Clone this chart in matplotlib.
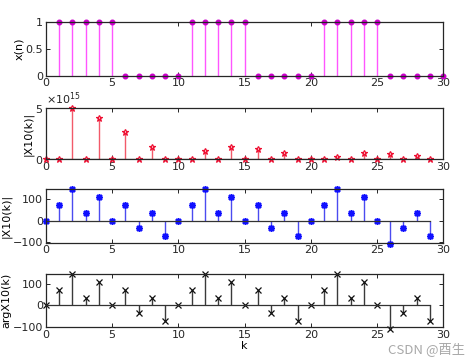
import matplotlib
matplotlib.use("Agg")
import matplotlib.pyplot as plt
from matplotlib.ticker import ScalarFormatter
import numpy as np

plt.rcParams['font.family'] = ['DejaVu Sans']

n = list(range(1, 31))
xn = [1, 1, 1, 1, 1, 0, 0, 0, 0, 0,
      1, 1, 1, 1, 1, 0, 0, 0, 0, 0,
      1, 1, 1, 1, 1, 0, 0, 0, 0, 0]

k = list(range(0, 30))
mag = [0, 0, 5.0e15, 0, 4.03e15, 0, 2.66e15, 0, 1.2e15, 0,
       0, 0, 0.84e15, 0, 1.23e15, 0, 1.04e15, 0, 0.58e15, 0,
       0, 0, 0.26e15, 0, 0.65e15, 0, 0.49e15, 0, 0.36e15, 0]
phase = [0, 72, 144, 36, 108, 0, 72, -36, 36, -72,
         0, 72, 144, 36, 108, 0, 72, -36, 36, -72,
         0, 72, 144, 36, 108, 0, -108, -36, 36, -72]

xticks = [0, 5, 10, 15, 20, 25, 30]

fig = plt.figure(figsize=(4.74, 3.63), dpi=100)
fs = 8
axcol = '#262626'

rects = [
    [0.097, 0.7915, 0.838, 0.148],
    [0.097, 0.561, 0.838, 0.142],
    [0.097, 0.3314, 0.838, 0.148],
    [0.097, 0.0983, 0.838, 0.147],
]
axes = [fig.add_axes(r) for r in rects]

def style(ax):
    for s in ax.spines.values():
        s.set_color(axcol)
        s.set_linewidth(0.9)
    ax.tick_params(direction='in', top=True, right=True, labelsize=fs,
                   colors=axcol, length=3, width=0.7, pad=2)
    ax.set_xlim(0, 30)
    ax.set_xticks(xticks)

# subplot 1
ax = axes[0]
ml, sl, bl = ax.stem(n, xn, basefmt=' ')
plt.setp(sl, color='#ff55ff', linewidth=1.0)
plt.setp(ml, marker='o', markersize=3.3, color='#cc00cc', clip_on=False)
ax.set_ylim(0, 1)
ax.set_yticks([0, 0.5, 1])
ax.set_yticklabels(['0', '0.5', '1'])
ax.set_ylabel('x(n)', fontsize=fs, labelpad=1)
style(ax)

# subplot 2
ax = axes[1]
ml, sl, bl = ax.stem(k, mag)
plt.setp(sl, color='#f25a6a', linewidth=1.0)
plt.setp(ml, marker='*', markersize=5, markerfacecolor='none',
         markeredgecolor='#ee1133', markeredgewidth=0.9, clip_on=False)
plt.setp(bl, color='#333333', linewidth=0.9)
ax.set_ylim(0, 5e15)
ax.set_yticks([0, 5e15])
fmt = ScalarFormatter(useMathText=True)
fmt.set_powerlimits((0, 0))
ax.yaxis.set_major_formatter(fmt)
ax.yaxis.get_offset_text().set_fontsize(fs)
ax.yaxis.get_offset_text().set_color(axcol)
ax.set_ylabel('|X10(k)|', fontsize=fs, labelpad=1)
style(ax)

# subplot 3
ax = axes[2]
ml, sl, bl = ax.stem(k, phase)
plt.setp(sl, color='#4b4bf0', linewidth=1.0)
plt.setp(ml, marker=(8, 2, 0), markersize=5, color='#1010ff',
         markeredgewidth=1.1, clip_on=False)
plt.setp(bl, color='#333333', linewidth=0.9)
ax.set_ylim(-102, 146)
ax.set_yticks([-100, 0, 100])
ax.set_ylabel('|X10(k)|', fontsize=fs, labelpad=1)
style(ax)

# subplot 4
ax = axes[3]
ml, sl, bl = ax.stem(k, phase)
plt.setp(sl, color='#3a3a3a', linewidth=1.0)
plt.setp(ml, marker='x', markersize=4, color='#111111',
         markeredgewidth=0.9, clip_on=False)
plt.setp(bl, color='#333333', linewidth=0.9)
ax.set_ylim(-102, 146)
ax.set_yticks([-100, 0, 100])
ax.set_ylabel('argX10(k)', fontsize=fs, labelpad=1)
ax.set_xlabel('k', fontsize=fs, labelpad=1)
style(ax)

fig.text(0.98, 0.018, 'CSDN @酉生', ha='right', va='bottom', fontsize=9.5,
         color='#a8a8a8', family=['Noto Sans CJK SC', 'DejaVu Sans'])

fig.savefig('out.png', dpi=100)
